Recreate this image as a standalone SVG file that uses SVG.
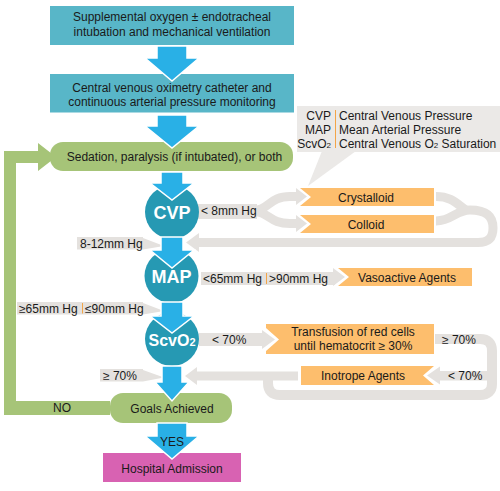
<svg xmlns="http://www.w3.org/2000/svg" width="500" height="491" viewBox="0 0 500 491">
<style>
text{font-family:"Liberation Sans",Arial,sans-serif;font-size:12px;fill:#1a1a1a}
.c{text-anchor:middle}
.r{text-anchor:end}
.teal{fill:#58b6c8}
.green{fill:#a6c478}
.orange{fill:#fdbe6d}
.gray{fill:#e4e1de}
.gs{fill:none;stroke:#e4e1de}
.blue{fill:#29b0e6;stroke:#fff;stroke-width:1.5}
.circ{fill:#2699b3}
.ct{font-weight:bold;fill:#fff;font-size:18px;text-anchor:middle}
.sep{stroke:#f3a548;stroke-width:1}
</style>
<rect width="500" height="491" fill="#fff"/>

<g id="connectors">
  <!-- green feedback loop -->
  <polygon class="green" points="4,415 110,415 110,401 16,401 16,163 38,163 38,171 56,157 38,143 38,151 4,151"/>
  <text x="62" y="412" class="c">NO</text>

  <!-- CVP < 8mm Hg branches -->
  <path class="gs" stroke-width="9" d="M250 211 C270 211 268 196.5 290 196.5 L297 196.5"/>
  <path class="gs" stroke-width="9" d="M250 211 C270 211 268 223.5 290 223.5 L297 223.5"/>
  <polygon class="gray" points="296,188 307,196.5 296,205"/>
  <polygon class="gray" points="296,215 307,223.5 296,232"/>
  <rect class="gray" x="197" y="204" width="60" height="15"/>
  <text x="201" y="215">&lt; 8mm Hg</text>

  <!-- return loop from Crystalloid/Colloid -->
  <path class="gs" stroke-width="9" d="M436 196.5 C451 196.5 456 203 467 211"/>
  <path class="gs" stroke-width="9" d="M436 221 C452 221 456 210 470 210 C486 210 493 216 493 228 C493 238 488 242.5 478 242.5 L198 242.5"/>
  <polygon class="gray" points="199,233 186,242.5 199,252"/>

  <!-- 8-12 label -->
  <rect class="gray" x="77" y="237" width="66" height="12.5"/>
  <polygon class="gray" points="143,238 164,246 143,249.5"/>
  <text x="80" y="247.5">8-12mm Hg</text>

  <!-- MAP right -->
  <rect class="gray" x="201" y="272" width="134" height="13"/>
  <polygon class="gray" points="333,268 345,277 333,286"/>
  <text x="203" y="282.5">&lt;65mm Hg</text>
  <line class="sep" x1="266.5" y1="273" x2="266.5" y2="284"/>
  <text x="269" y="282.5">&gt;90mm Hg</text>

  <!-- MAP left label -->
  <rect class="gray" x="17" y="302" width="126" height="12.5"/>
  <polygon class="gray" points="143,303 164,311 143,314.5"/>
  <text x="19" y="312.5">≥65mm Hg</text>
  <line class="sep" x1="82.5" y1="303" x2="82.5" y2="313.5"/>
  <text x="85" y="312.5">≤90mm Hg</text>

  <!-- ScvO2 < 70% -->
  <rect class="gray" x="199" y="333" width="64" height="13"/>
  <polygon class="gray" points="262,330 275,339.5 262,349"/>
  <text x="212" y="344">&lt; 70%</text>

  <!-- transfusion loop -->
  <path class="gs" stroke-width="10" d="M435 339 L480 339 C488 339 492 343 492 351 L492 384 C492 391 488 395 480 395 L280 395 C272 395 268 391 268 383 L268 378"/>
  <text x="442" y="343.5">≥ 70%</text>
  <rect class="gray" x="438" y="371" width="54" height="9.5"/>
  <polygon class="gray" points="440,366.5 427,375.5 440,384.5"/>
  <text x="448" y="380">&lt; 70%</text>
  <rect class="gray" x="195" y="371.5" width="103" height="9"/>
  <polygon class="gray" points="197,367 185,376 197,385"/>

  <!-- ScvO2 left label -->
  <rect class="gray" x="100" y="369" width="43" height="12.5"/>
  <polygon class="gray" points="143,370 164,377.5 143,381.5"/>
  <text x="103" y="379.5">≥ 70%</text>
</g>

<g id="box1">
  <rect class="teal" x="50" y="6" width="244" height="39"/>
  <text x="172" y="21" class="c">Supplemental oxygen ± endotracheal</text>
  <text x="172" y="36" class="c">intubation and mechanical ventilation</text>
</g>
<g id="box2">
  <rect class="teal" x="50" y="74" width="244" height="38.5"/>
  <text x="172" y="92" class="c">Central venous oximetry catheter and</text>
  <text x="172" y="106" class="c">continuous arterial pressure monitoring</text>
</g>
<g id="sedation">
  <rect class="green" x="50" y="142" width="243" height="29" rx="13"/>
  <text x="174.5" y="161" class="c">Sedation, paralysis (if intubated), or both</text>
</g>

<g id="legend">
  <rect x="297" y="106" width="203" height="46" fill="#ebe9e7"/>
  <polygon points="322,151 356,151 308,186" fill="#ebe9e7"/>
  <line class="sep" x1="335.5" y1="110" x2="335.5" y2="148"/>
  <text x="331" y="120" class="r">CVP</text>
  <text x="331" y="134" class="r">MAP</text>
  <text x="331" y="148" class="r">ScvO<tspan font-size="8">2</tspan></text>
  <text x="339" y="120">Central Venous Pressure</text>
  <text x="339" y="134">Mean Arterial Pressure</text>
  <text x="339" y="148">Central Venous O<tspan font-size="8">2</tspan> Saturation</text>
</g>

<g id="crystalloid">
  <polygon class="orange" points="300,188 434,188 434,206 300,206 311,197"/>
  <text x="366" y="201.5" class="c">Crystalloid</text>
</g>
<g id="colloid">
  <polygon class="orange" points="300,215 434,215 434,233 300,233 311,224"/>
  <text x="366" y="228.5" class="c">Colloid</text>
</g>
<g id="vasoactive">
  <polygon class="orange" points="338,268 472,268 472,286 338,286 349,277"/>
  <text x="407" y="281.5" class="c">Vasoactive Agents</text>
</g>
<g id="transfusion">
  <polygon class="orange" points="266,324 434,324 434,354 266,354 266,351 279,339.5 266,328"/>
  <text x="353" y="336" class="c">Transfusion of red cells</text>
  <text x="353" y="350" class="c">until hematocrit ≥ 30%</text>
</g>
<g id="inotrope">
  <polygon class="orange" points="301,366 434,366 423,375.5 434,385 301,385"/>
  <text x="363" y="380" class="c">Inotrope Agents</text>
</g>

<g id="cvp">
  <circle class="circ" cx="172" cy="212" r="27"/>
  <text x="172" y="219" class="ct">CVP</text>
</g>
<g id="map">
  <circle class="circ" cx="171.5" cy="276" r="27"/>
  <text x="171.5" y="283" class="ct">MAP</text>
</g>
<g id="scvo2">
  <circle class="circ" cx="172" cy="339" r="27"/>
  <text x="172" y="346" class="ct" style="font-size:16px">ScvO<tspan font-size="11">2</tspan></text>
</g>

<g id="goals">
  <rect class="green" x="110" y="393" width="122" height="30" rx="13"/>
  <text x="172" y="412.5" class="c">Goals Achieved</text>
</g>
<g id="hospital">
  <rect x="103" y="453" width="138" height="29" fill="#d862b2"/>
  <text x="172" y="472.5" class="c">Hospital Admission</text>
</g>

<g id="arrows">
  <polygon class="blue" points="157,46 187,46 187,58 199,58 172,81 145,58 157,58"/>
  <polygon class="blue" points="157,115 187,115 187,126 199,126 172,148 145,126 157,126"/>
  <polygon class="blue" points="161,172 183,172 183,183 194,183 172,200 150,183 161,183"/>
  <polygon class="blue" points="161,237 183,237 183,250 194,250 172,268 150,250 161,250"/>
  <polygon class="blue" points="161,302 183,302 183,316 194,316 172,333 150,316 161,316"/>
  <polygon class="blue" points="162,366 182,366 182,382 189,382 172,401 155,382 162,382"/>
  <polygon class="blue" points="157,423 187,423 187,436 199,436 172,459 145,436 157,436"/>
  <text x="172" y="446" class="c">YES</text>
</g>
</svg>
